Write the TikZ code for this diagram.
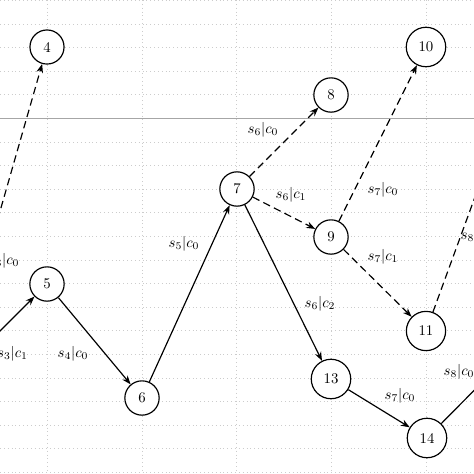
\documentclass[tikz,border=0pt]{standalone}
\usetikzlibrary{arrows.meta}
\begin{document}
\begin{tikzpicture}[x=0.675pt,y=-0.675pt,
  state/.style={circle,draw,line width=0.8pt,inner sep=5.2pt,fill=white},
  tr/.style={line width=0.8pt,-{Stealth[length=6pt,width=4.5pt]}},
  opt/.style={tr,dash pattern=on 5pt off 3pt},
  gridline/.style={gray!40,dotted,line width=0.6pt},
  lbl/.style={inner sep=0pt}]
\useasboundingbox (0,0) rectangle (474,474);
\clip (0,0) rectangle (474,474);
% grid
\foreach \yy in {0.4,24,47.6,71.2,94.8,142,165.6,189.2,212.8,236.4,260,283.6,307.2,330.8,354.4,378,401.6,425.2,448.8,472.4}
  \draw[gridline] (0,\yy) -- (474,\yy);
\foreach \xx in {47.2,141.95,236.7,331.45,426.2}
  \draw[gridline] (\xx,0) -- (\xx,474);
\draw[gray!70,line width=0.5pt] (0,118.4) -- (474,118.4);
% off-canvas ends
\coordinate (n3) at (-48,379);
\coordinate (n12) at (521,71);
\coordinate (n15) at (521,343);
% states
\node[state] (n4) at (47,47) {4};
\node[state] (n5) at (47,284) {5};
\node[state] (n6) at (142,398) {6};
\node[state] (n7) at (237,189) {7};
\node[state] (n8) at (331,95) {8};
\node[state] (n9) at (331,237) {9};
\node[state] (n10) at (426,47) {10};
\node[state] (n11) at (426,331) {11};
\node[state] (n13) at (331,379) {13};
\node[state] (n14) at (427,438) {14};
% transitions
\draw[opt] (n3) -- (n4);
\draw[tr] (n3) -- (n5);
\draw[tr] (n5) -- (n6);
\draw[tr] (n6) -- (n7);
\draw[opt] (n7) -- (n8);
\draw[opt] (n7) -- (n9);
\draw[tr] (n7) -- (n13);
\draw[opt] (n9) -- (n10);
\draw[opt] (n9) -- (n11);
\draw[tr] (n13) -- (n14);
\draw[opt] (n11) -- (n12);
\draw[tr] (n14) -- (n15);
% labels
\node[lbl] (l30) at (4,261) {$s_3|c_0$};
\node[lbl] (l31) at (12.5,354) {$s_3|c_1$};
\node[lbl] (l40) at (73,354) {$s_4|c_0$};
\node[lbl] (l50) at (184,244) {$s_5|c_0$};
\node[lbl] (l60) at (263,130) {$s_6|c_0$};
\node[lbl] (l61) at (291,195) {$s_6|c_1$};
\node[lbl] (l62) at (320,304) {$s_6|c_2$};
\node[lbl] (l70) at (383,190) {$s_7|c_0$};
\node[lbl] (l71) at (383,257) {$s_7|c_1$};
\node[lbl] (l70b) at (400,396) {$s_7|c_0$};
\node[lbl] (l80) at (476,236) {$s_8|c_0$};
\node[lbl] (l80b) at (459,372) {$s_8|c_0$};
\end{tikzpicture}
\end{document}
